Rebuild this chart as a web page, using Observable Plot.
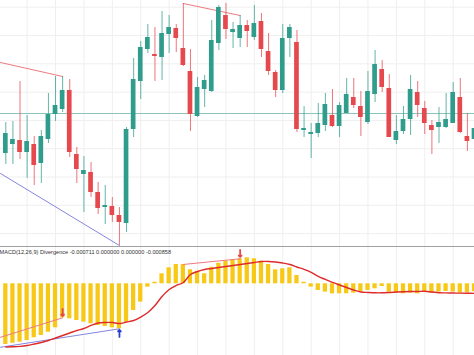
<!DOCTYPE html>
<html><head><meta charset="utf-8">
<script src="https://cdn.jsdelivr.net/npm/d3@7"></script>
<script src="https://cdn.jsdelivr.net/npm/@observablehq/plot@0.6"></script>
<style>
html,body{margin:0;padding:0;background:#fff;}
#chart{width:474px;height:355px;overflow:hidden;position:relative;}
#chart svg{display:block;}
.sep{height:1px;background:#a0a0a0;}
</style></head><body><div id="chart"></div>
<script>
// ---- price data (one candle per bar) ----
const opens  = [1.1097,1.1106,1.1110,1.1098,1.1106,1.1087,1.1111,1.1136,1.1141,1.1160,1.1096,1.1076,1.1078,1.1058,1.1043,1.1044,1.1035,1.1027,1.1121,1.1169,1.1201,1.1196,1.1193,1.1216,1.1222,1.1202,1.1179,1.1134,1.1161,1.1159,1.1207,1.1235,1.1218,1.1212,1.1225,1.1213,1.1229,1.1199,1.1178,1.1160,1.1212,1.1208,1.1120,1.1116,1.1117,1.1125,1.1135,1.1124,1.1137,1.1153,1.1144,1.1128,1.1156,1.1181,1.1162,1.1110,1.1119,1.1131,1.1158,1.1142,1.1125,1.1123,1.1123,1.1127,1.1153,1.1114,1.1111];
const highs  = [1.1128,1.1129,1.1169,1.1135,1.1114,1.1120,1.1157,1.1174,1.1174,1.1171,1.1103,1.1094,1.1088,1.1068,1.1065,1.1053,1.1043,1.1123,1.1192,1.1209,1.1226,1.1223,1.1239,1.1235,1.1226,1.1247,1.1201,1.1173,1.1175,1.1230,1.1245,1.1247,1.1228,1.1235,1.1230,1.1245,1.1237,1.1217,1.1180,1.1226,1.1226,1.1220,1.1144,1.1127,1.1147,1.1157,1.1161,1.1148,1.1172,1.1172,1.1159,1.1179,1.1200,1.1190,1.1176,1.1135,1.1144,1.1175,1.1169,1.1149,1.1130,1.1143,1.1157,1.1168,1.1172,1.1137,1.1128];
const lows   = [1.1086,1.1086,1.1091,1.1072,1.1065,1.1067,1.1107,1.1129,1.1138,1.1093,1.1067,1.1038,1.1053,1.1036,1.1026,1.1028,1.1005,1.1018,1.1113,1.1151,1.1197,1.1169,1.1170,1.1197,1.1198,1.1184,1.1119,1.1133,1.1143,1.1158,1.1200,1.1211,1.1202,1.1203,1.1203,1.1210,1.1193,1.1175,1.1153,1.1157,1.1193,1.1118,1.1113,1.1092,1.1113,1.1119,1.1123,1.1113,1.1137,1.1142,1.1114,1.1126,1.1148,1.1158,1.1113,1.1106,1.1116,1.1115,1.1133,1.1116,1.1096,1.1107,1.1122,1.1127,1.1117,1.1099,1.1105];
const closes = [1.1117,1.1111,1.1098,1.1109,1.1085,1.1114,1.1136,1.1145,1.1160,1.1098,1.1081,1.1080,1.1058,1.1042,1.1045,1.1035,1.1028,1.1121,1.1171,1.1203,1.1213,1.1194,1.1217,1.1223,1.1212,1.1185,1.1136,1.1163,1.1170,1.1210,1.1243,1.1221,1.1221,1.1225,1.1219,1.1227,1.1201,1.1179,1.1160,1.1212,1.1223,1.1121,1.1122,1.1118,1.1127,1.1146,1.1124,1.1145,1.1156,1.1145,1.1133,1.1159,1.1186,1.1163,1.1113,1.1119,1.1131,1.1161,1.1145,1.1127,1.1120,1.1128,1.1131,1.1158,1.1118,1.1109,1.1122];
const levelPrice = [1.1137];

// ---- MACD(12,26,9) ----
const macdMain = [-0.00546,-0.00535,-0.00525,-0.00510,-0.00486,-0.00465,-0.00436,-0.00396,-0.00306,-0.00315,-0.00330,-0.00345,-0.00360,-0.00375,-0.00384,-0.00396,-0.00405,-0.00345,-0.00240,-0.00165,-0.00030,0.00014,0.00090,0.00144,0.00174,0.00174,0.00126,0.00113,0.00090,0.00149,0.00185,0.00203,0.00216,0.00225,0.00234,0.00225,0.00203,0.00174,0.00126,0.00135,0.00144,0.00075,0.00014,-0.00030,-0.00060,-0.00075,-0.00090,-0.00090,-0.00090,-0.00084,-0.00075,-0.00060,-0.00045,-0.00024,-0.00075,-0.00084,-0.00090,-0.00084,-0.00090,-0.00075,-0.00084,-0.00075,-0.00069,-0.00075,-0.00084,-0.00081,-0.00071];
const macdSignal = [-0.00569,-0.00567,-0.00563,-0.00555,-0.00542,-0.00528,-0.00510,-0.00488,-0.00465,-0.00443,-0.00420,-0.00402,-0.00375,-0.00353,-0.00348,-0.00348,-0.00357,-0.00344,-0.00330,-0.00299,-0.00258,-0.00195,-0.00114,-0.00051,-0.00015,0.00012,0.00084,0.00111,0.00129,0.00138,0.00147,0.00156,0.00165,0.00174,0.00183,0.00192,0.00201,0.00201,0.00196,0.00187,0.00174,0.00151,0.00129,0.00102,0.00066,0.00039,0.00012,-0.00011,-0.00033,-0.00056,-0.00074,-0.00078,-0.00081,-0.00081,-0.00078,-0.00074,-0.00071,-0.00069,-0.00069,-0.00067,-0.00074,-0.00081,-0.00082,-0.00083,-0.00084,-0.00085,-0.00086];
const indicatorName = "MACD(12,26,9) Divergence";
const indicatorValues = ["-0.000711", "0.000000", "0.000000", "-0.000858"];

// ---- divergences ----
const divKind  = ["bear", "bull", "bear"];
const divIdx   = [[-0.75, 8], [-0.75, 16], [25, 33]];
const divPrice = [[1.1188, 1.1174], [1.1077, 1.1005], [1.1247, 1.1235]];
const divMacd  = [[-0.00481, -0.00306], [-0.00571, -0.00405], [0.00174, 0.00225]];
const arrowIdx  = [8, 16, 33];
const arrowMacd = [-0.00258, -0.00447, 0.00273];

// ---- styling ----
const GREEN = "#2f9c8c", RED = "#e5484d", YELLOW = "#f7c815", SIGNAL = "#e02a2a";
const DIVCOL = {bear: "#ee7a7f", bull: "#8585e0"};
const GRID = "#efefef";

const n = opens.length;
const candles = d3.range(n).map(i => ({i, o: opens[i], h: highs[i], l: lows[i], c: closes[i], col: closes[i] >= opens[i] ? GREEN : RED}));
const bars = d3.range(n).map(i => ({i, v: macdMain[i], s: macdSignal[i]}));
const segs = [];
divKind.forEach((k, j) => {
  for (let t = 0; t < 2; t++) segs.push({j, kind: k, i: divIdx[j][t], p: divPrice[j][t], m: divMacd[j][t], col: DIVCOL[k]});
});
const arrows = arrowIdx.map((i, j) => ({i, m: arrowMacd[j], kind: divKind[j], col: divKind[j] === "bear" ? RED : "#2d3fd0", rot: divKind[j] === "bear" ? 180 : 0}));

const xDomain = [-0.75, 66.0];
const gridIdx = d3.range(3, n, 4);
const gridPrice = d3.range(0, 9).map(k => 1.12433 - 0.00283 * k);

const main = Plot.plot({
  width: 474, height: 246, margin: 0,
  x: {domain: xDomain, axis: null},
  y: {domain: [1.1004, 1.1250], axis: null},
  color: {type: "identity"},
  marks: [
    Plot.ruleX(gridIdx, {stroke: GRID}),
    Plot.ruleY(gridPrice, {stroke: GRID}),
    Plot.ruleY(levelPrice, {stroke: "#8cc4bb", strokeWidth: 1}),
    Plot.line(segs, {x: "i", y: "p", z: "j", stroke: "col", strokeWidth: 1}),
    Plot.ruleX(candles, {x: "i", y1: "l", y2: "h", stroke: "col", strokeWidth: 1, strokeOpacity: 0.75}),
    Plot.rect(candles, {x1: d => d.i - 0.33, x2: d => d.i + 0.33, y1: "o", y2: "c", fill: "col"})
  ]
});

const sub = Plot.plot({
  width: 474, height: 108, margin: 0,
  x: {domain: xDomain, axis: null},
  y: {domain: [-0.006453, 0.003267], axis: null},
  color: {type: "identity"},
  marks: [
    Plot.ruleX(gridIdx, {stroke: GRID}),
    Plot.rect(bars, {x1: d => d.i - 0.3, x2: d => d.i + 0.3, y1: 0, y2: "v", fill: YELLOW}),
    Plot.line(segs, {x: "i", y: "m", z: "j", stroke: "col", strokeWidth: 1}),
    Plot.line(bars, {x: "i", y: "s", stroke: SIGNAL, strokeWidth: 1.4, curve: "catmull-rom"}),
    Plot.vector(arrows, {x: "i", y: "m", length: 7, rotate: "rot", stroke: "col", strokeWidth: 1.8, anchor: "middle"}),
    Plot.text([indicatorName + " " + indicatorValues.join(" ")], {frameAnchor: "top-left", dx: -1, dy: 3, fontSize: 5.6, fill: "#333", fontFamily: "Liberation Sans, Arial, sans-serif"})
  ]
});

const root = document.getElementById("chart");
root.appendChild(main);
const sep = document.createElement("div"); sep.className = "sep"; root.appendChild(sep);
root.appendChild(sub);
</script>
</body></html>
